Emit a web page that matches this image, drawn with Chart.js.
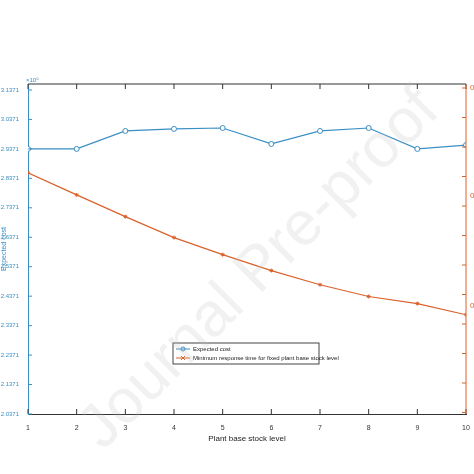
<!DOCTYPE html><html><head><style>body{margin:0;background:#fff}#w{width:474px;height:474px}</style>
<script src="https://cdn.jsdelivr.net/npm/chart.js"></script></head><body><div id="w"><canvas id="c"></canvas></div><script>
const categories=[1,2,3,4,5,6,7,8,9,10];
const expectedCost=[2.9371,2.937,2.998,3.005,3.008,2.954,2.998,3.008,2.937,2.95];
const minResponse=[2.856,2.781,2.707,2.636,2.578,2.524,2.476,2.436,2.412,2.374];
const leftTicks=[2.0371,2.1371,2.2371,2.3371,2.4371,2.5371,2.6371,2.7371,2.8371,2.9371,3.0371,3.1371];
const blue='#3a8fc4',orange='#d9622b';
const deco={id:'deco',afterDraw(ch){const c=ch.ctx,a=ch.chartArea,x=ch.scales.x,y=ch.scales.y;
c.save();c.strokeStyle='#333';c.lineWidth=1;c.beginPath();c.moveTo(a.left,a.top);c.lineTo(a.right,a.top);c.stroke();
categories.forEach(v=>{const px=x.getPixelForValue(v);c.beginPath();c.moveTo(px,a.top);c.lineTo(px,a.top+5);c.moveTo(px,a.bottom);c.lineTo(px,a.bottom-5);c.stroke();});
c.strokeStyle=blue;leftTicks.forEach(v=>{const py=y.getPixelForValue(v);c.beginPath();c.moveTo(a.left,py);c.lineTo(a.left+4,py);c.stroke();});
c.strokeStyle=orange;c.beginPath();c.moveTo(a.right,a.top);c.lineTo(a.right,a.bottom);c.stroke();
c.fillStyle=orange;c.font='8px Liberation Sans';c.textBaseline='middle';
for(let i=0;i<12;i++){const py=a.top+4+i*29.5;c.beginPath();c.moveTo(a.right,py);c.lineTo(a.right-4,py);c.stroke();}
[a.top+4,a.top+112,a.top+222].forEach(py=>c.fillText('0.',a.right+4,py));
c.fillStyle=blue;c.font='6px Liberation Sans';c.fillText('×10⁵',a.left-2,a.top-4);
// legend
const lx=173,ly=343;c.fillStyle='#fff';c.strokeStyle='#444';c.fillRect(lx,ly,146,21);c.strokeRect(lx,ly,146,21);
c.font='6px Liberation Sans';
[[blue,'Expected cost',0],[orange,'Minimum response time for fixed plant base stock level',1]].forEach(([col,t,i])=>{const yy=ly+6+i*9;c.strokeStyle=col;c.beginPath();c.moveTo(lx+3,yy);c.lineTo(lx+17,yy);c.stroke();c.beginPath();if(i==0)c.arc(lx+10,yy,2,0,7);else{c.moveTo(lx+8,yy-2);c.lineTo(lx+12,yy+2);c.moveTo(lx+12,yy-2);c.lineTo(lx+8,yy+2);}c.stroke();c.fillStyle='#222';c.fillText(t,lx+20,yy);});
// watermark
c.translate(260,270);c.rotate(-Math.PI/4);c.fillStyle='rgba(190,190,190,0.22)';c.font='62px Liberation Sans';c.textAlign='center';c.fillText('Journal Pre-proof',0,0);
c.restore();}};
new Chart(document.getElementById('c'),{type:'line',data:{datasets:[
{label:'Expected cost',data:categories.map((v,i)=>({x:v,y:expectedCost[i]})),borderColor:blue,backgroundColor:'transparent',borderWidth:1.2,pointRadius:2.5,pointBorderColor:blue,pointBackgroundColor:'#fff',pointBorderWidth:1},
{label:'Minimum response time for fixed plant base stock level',data:categories.map((v,i)=>({x:v,y:minResponse[i]})),borderColor:orange,backgroundColor:orange,borderWidth:1.2,pointRadius:2,pointStyle:'star',pointBorderColor:orange,pointBorderWidth:1}]},
options:{responsive:true,maintainAspectRatio:false,animation:false,layout:{padding:{top:84,right:8,bottom:30,left:0}},
plugins:{legend:{display:false},tooltip:{enabled:false}},
scales:{x:{type:'linear',min:1,max:10,afterBuildTicks:s=>{s.ticks=categories.map(v=>({value:v}))},grid:{display:false},border:{color:'#333'},ticks:{color:'#333',font:{size:7,family:'Liberation Sans'},padding:2},title:{display:true,text:'Plant base stock level',color:'#222',font:{size:8,family:'Liberation Sans'},padding:0}},
y:{min:2.0371,max:3.1574,afterBuildTicks:s=>{s.ticks=leftTicks.map(v=>({value:v}))},afterFit:s=>{s.width=28},grid:{display:false},border:{color:blue},ticks:{color:blue,font:{size:6,family:'Liberation Sans'},padding:1,callback:v=>v.toFixed(4)},title:{display:false}}}},
plugins:[deco,{id:'yt',afterDraw(ch){const c=ch.ctx,a=ch.chartArea;c.save();c.translate(4,(a.top+a.bottom)/2);c.rotate(-Math.PI/2);c.fillStyle=blue;c.font='7px Liberation Sans';c.textAlign='center';c.textBaseline='middle';c.fillText('Expected cost',0,0);c.restore();}}]});
</script></body></html>
